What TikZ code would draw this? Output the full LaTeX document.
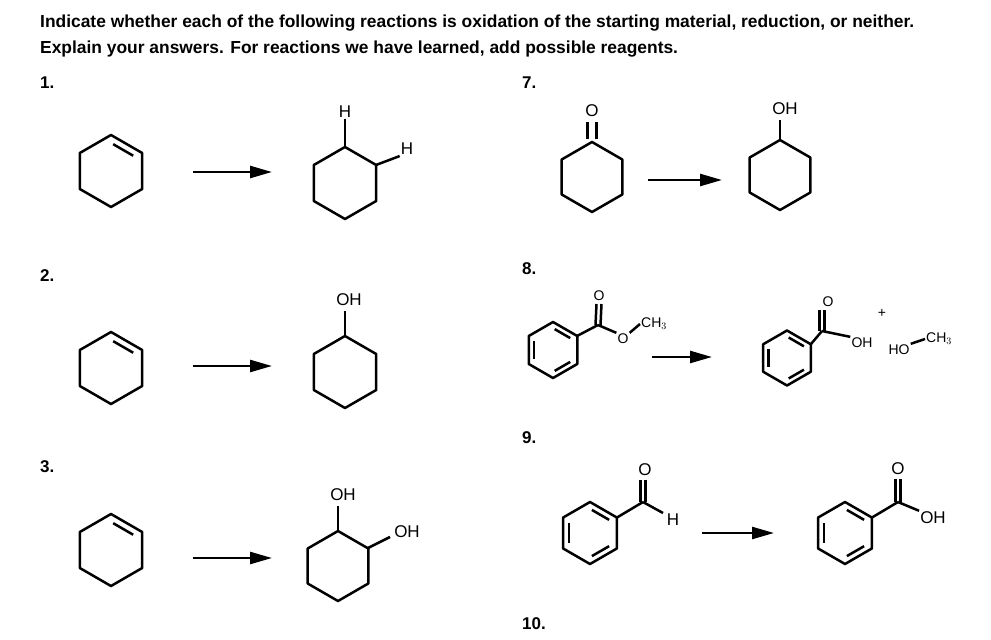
\documentclass[tikz,border=0pt]{standalone}
\usepackage{fontspec}
\setmainfont{Liberation Sans}
\usetikzlibrary{calc,arrows.meta}
\newcommand\hexa[3]{\draw[bond] ($(#1,#2)+(270:#3)$) -- ($(#1,#2)+(330:#3)$) -- ($(#1,#2)+(30:#3)$) -- ($(#1,#2)+(90:#3)$) -- ($(#1,#2)+(150:#3)$) -- ($(#1,#2)+(210:#3)$) -- cycle;}
\newcommand\inb[5]{\draw[bond,shorten <=#3*0.07pt,shorten >=#3*0.07pt] ($(#1,#2)+(#4:#3*0.78)$) -- ($(#1,#2)+(#5:#3*0.78)$);}
\newcommand\benz[3]{\hexa{#1}{#2}{#3}\inb{#1}{#2}{#3}{150}{210}\inb{#1}{#2}{#3}{270}{330}\inb{#1}{#2}{#3}{30}{90}}
\newcommand\chex[3]{\hexa{#1}{#2}{#3}\inb{#1}{#2}{#3}{270}{330}}
\begin{document}
\begin{tikzpicture}[x=1pt,y=-1pt,
  bond/.style={line width=2.5pt,line join=round},
  rarrow/.style={line width=2.5pt,-{Triangle[length=22pt,width=12pt]}},
  title/.style={font=\fontsize{17.4}{20}\selectfont\bfseries,anchor=base west,inner sep=0},
  num/.style={font=\fontsize{17}{20}\selectfont\bfseries,anchor=base west,inner sep=0},
  atom/.style={font=\fontsize{17}{20}\selectfont,inner sep=1pt},
  satom/.style={font=\fontsize{14}{16}\selectfont,inner sep=1pt}]
\useasboundingbox (0,0) rectangle (991,640);
\fill[white] (0,0) rectangle (991,640);
\node[title] (t1) at (40,27) {Indicate whether each of the following reactions is oxidation of the starting material, reduction, or neither.};
\node[title] (t2) at (40,53) {Explain your answers. For reactions we have learned, add possible reagents.};
\node[num] (n1) at (40,88) {1.};
\node[num] (n7) at (522,88) {7.};
\node[num] (n2) at (40,281) {2.};
\node[num] (n8) at (522,274) {8.};
\node[num] (n9) at (522,443) {9.};
\node[num] (n3) at (40,472) {3.};
\node[num] (n10) at (522,629) {10.};
% 1
\chex{111}{171}{36}
\coordinate (a1) at (193,172); \coordinate (b1) at (272,172);
\draw[rarrow] (a1) -- (b1);
\hexa{345}{183}{36}
\node[atom] (h1) at (345,112) {H};
\node[atom] (h2) at (407,149) {H};
\coordinate (v1) at (345,147); \coordinate (v2) at (376,165);
\draw[bond] (v1) -- (h1.south);
\draw[bond] (v2) -- (h2.south west);
% 2
\chex{111}{368}{36}
\coordinate (a2) at (193,366); \coordinate (b2) at (272,366);
\draw[rarrow] (a2) -- (b2);
\hexa{345}{372}{36}
\node[atom] (oh2) at (349,300) {OH};
\coordinate (v3) at (345,336);
\draw[bond] (v3) -- (345,311);
% 3
\chex{111}{550}{36}
\coordinate (a3) at (193,558); \coordinate (b3) at (272,558);
\draw[rarrow] (a3) -- (b3);
\hexa{338}{566}{35}
\node[atom] (oh3a) at (343,495) {OH};
\node[atom] (oh3b) at (407,532) {OH};
\coordinate (v4) at (338,531); \coordinate (v5) at (368,548);
\draw[bond] (v4) -- (338,506);
\draw[bond] (v5) -- (390,537);
% 7
\hexa{592}{177}{35}
\node[atom] (o7) at (592,111) {O};
\coordinate (v6) at (592,142);
\draw[bond] (596.5,139) -- (596.5,122);
\draw[bond] (587.5,139) -- (587.5,122);
\coordinate (a7) at (648,180); \coordinate (b7) at (722,180);
\draw[rarrow] (a7) -- (b7);
\hexa{780}{175}{35}
\node[atom] (oh7) at (785,109) {OH};
\coordinate (v7) at (780,140);
\draw[bond] (v7) -- (780,120);
% 8
\benz{553}{350}{28}
\coordinate (c8) at (598,325);
\node[satom] (o8) at (599,296) {O};
\node[satom] (oe8) at (623,339) {O};
\node[satom,anchor=west] (me8) at (640,324) {CH$_3$};
\draw[bond] (577,336) -- (c8);
\draw[bond] ($(c8)+(-2.5,0)$) -- (596.5,304);
\draw[bond] ($(c8)+(2.5,0)$) -- (601.5,304);
\draw[bond] (c8) -- (oe8.north west);
\draw[bond] (oe8.north east) -- (me8.west);
\coordinate (a8) at (652,357); \coordinate (b8) at (712,357);
\draw[rarrow] (a8) -- (b8);
\benz{787}{358}{27.5}
\coordinate (c8b) at (822,331);
\node[satom] (o8b) at (828,302) {O};
\node[satom] (oh8b) at (862,343) {OH};
\draw[bond] (811,344) -- (c8b);
\draw[bond] ($(c8b)+(-2.5,0)$) -- (819.5,310);
\draw[bond] ($(c8b)+(2.5,0)$) -- (824.5,310);
\draw[bond] (c8b) -- (oh8b.north west);
\node[satom] (plus) at (882,313) {+};
\node[satom] (ho) at (899,350) {HO};
\node[satom,anchor=west] (me8b) at (925,339) {CH$_3$};
\draw[bond] (ho.north east) -- (me8b.west);
% 9
\benz{590}{533}{31}
\coordinate (c9) at (643,502);
\node[atom] (o9) at (645,470) {O};
\node[atom] (h9) at (673,520) {H};
\draw[bond] (617,517.5) -- (c9);
\draw[bond] ($(c9)+(-2.5,0)$) -- (640.5,480);
\draw[bond] ($(c9)+(2.5,0)$) -- (645.5,480);
\draw[bond] (c9) -- (663,513);
\coordinate (a9) at (702,533); \coordinate (b9) at (774,533);
\draw[rarrow] (a9) -- (b9);
\benz{845}{533}{31}
\coordinate (c9b) at (898,502);
\node[atom] (o9b) at (898,469) {O};
\node[atom] (oh9b) at (933,518) {OH};
\draw[bond] (872,517.5) -- (c9b);
\draw[bond] ($(c9b)+(-2.5,0)$) -- (895.5,479);
\draw[bond] ($(c9b)+(2.5,0)$) -- (900.5,479);
\draw[bond] (c9b) -- (oh9b.north west);
\end{tikzpicture}
\end{document}
